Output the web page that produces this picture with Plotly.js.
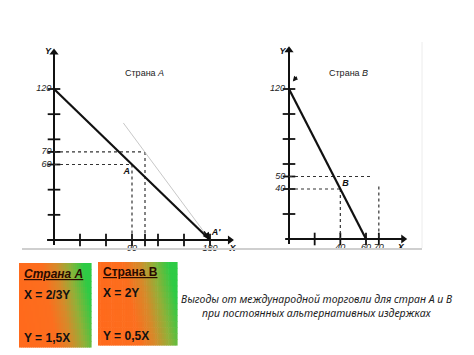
<!DOCTYPE html>
<html><head><meta charset="utf-8">
<script src="https://cdn.plot.ly/plotly-3.0.1.min.js"></script>
<style>html,body{margin:0;padding:0;background:#fff}#c{width:474px;height:355px}</style>
</head><body><div id="c"></div>
<script>
// ---- data ----
const ppfA_x = [0, 180], ppfA_y = [120, 0];
const tradeA_x = [180, 80], tradeA_y = [0, 93];
const ppfB_x = [0, 60], ppfB_y = [120, 0];
const prodA = [90, 60], consA = [105, 70];
const prodB = [40, 40], consB_h = [64, 50], consB_v = [70, 42];
const xTicksA = [30, 60, 90, 105, 120, 150, 180];
const yTicksA = [20, 40, 60, 70, 80, 100, 120];
const xLabA = [90, 180], xLabA_txt = ['90', '180'];
const yLabA = [120, 70, 60], yLabA_txt = ['120', '70', '60'];
const xTicksB = [20, 40, 60, 70];
const yTicksB = [20, 40, 50, 60, 80, 100, 120];
const xLabB = [40, 60, 70], xLabB_txt = ['40', '60', '70'];
const yLabB = [120, 50, 40], yLabB_txt = ['120', '50', '40'];
const titleA = 'Страна <i>А</i>', titleB = 'Страна <i>В</i>';
const boxA = ['Страна А', 'X = 2/3Y', 'Y = 1,5X'];
const boxB = ['Страна В', 'X = 2Y', 'Y = 0,5X'];
const caption = ['Выгоды от международной торговли для стран А и В', 'при постоянных альтернативных издержках'];

// ---- layout helpers ----
const W = 474, H = 355;
function xax(px0, k, d0, d1) { return {range: [(d0 - px0) / k, (d1 - px0) / k], domain: [d0 / W, d1 / W], visible: false, fixedrange: true}; }
function yax(py0, k, d0, d1) { return {range: [(py0 - d1) / k, (py0 - d0) / k], domain: [(H - d1) / H, (H - d0) / H], visible: false, fixedrange: true}; }
const tickFont = {family: 'Liberation Sans', size: 9, color: '#222', style: 'italic'};

function seg(pairs) { const x = [], y = []; pairs.forEach(p => { x.push(p[0][0], p[1][0], null); y.push(p[0][1], p[1][1], null); }); return {x, y}; }

function panel(xa, ya, o) {
  const t = [];
  const line = (x, y, w, c, dash) => t.push({x, y, xaxis: xa, yaxis: ya, mode: 'lines', line: {width: w, color: c, dash: dash || 'solid'}, hoverinfo: 'skip', showlegend: false, cliponaxis: false});
  line([o.xmin, o.xmax], [0, 0], 2, '#111');
  line([0, 0], [o.ymin, o.ymax], 2, '#111');
  t.push({x: [o.xmax], y: [0], xaxis: xa, yaxis: ya, mode: 'markers', marker: {symbol: 'triangle-right', size: 8, color: '#111'}, showlegend: false, hoverinfo: 'skip', cliponaxis: false});
  t.push({x: [0], y: [o.ymax], xaxis: xa, yaxis: ya, mode: 'markers', marker: {symbol: 'triangle-up', size: 8, color: '#111'}, showlegend: false, hoverinfo: 'skip', cliponaxis: false});
  t.push({x: o.xt, y: o.xt.map(() => 0), xaxis: xa, yaxis: ya, mode: 'markers', marker: {symbol: 'line-ns-open', size: 9, color: '#111', line: {width: 1.8, color: '#111'}}, showlegend: false, hoverinfo: 'skip', cliponaxis: false});
  t.push({x: o.yt.map(() => 0), y: o.yt, xaxis: xa, yaxis: ya, mode: 'markers', marker: {symbol: 'line-ew-open', size: 9, color: '#111', line: {width: 1.8, color: '#111'}}, showlegend: false, hoverinfo: 'skip', cliponaxis: false});
  const d = seg(o.dash);
  line(d.x, d.y, 1.2, '#333', 'dot');
  o.extra.forEach(e => line(e.x, e.y, e.w, e.c));
  t.push({x: o.xl, y: o.xl.map(() => o.xlY), text: o.xlT, xaxis: xa, yaxis: ya, mode: 'text', textposition: 'bottom center', textfont: tickFont, showlegend: false, hoverinfo: 'skip', cliponaxis: false});
  t.push({x: o.yl.map(() => o.ylX), y: o.yl, text: o.ylT, xaxis: xa, yaxis: ya, mode: 'text', textposition: 'middle left', textfont: tickFont, showlegend: false, hoverinfo: 'skip', cliponaxis: false});
  t.push({x: o.lab.map(l => l[0]), y: o.lab.map(l => l[1]), text: o.lab.map(l => l[2]), xaxis: xa, yaxis: ya, mode: 'text', textposition: 'middle center', textfont: {family: 'Liberation Sans', size: 9, color: '#111', style: 'italic', weight: 'bold'}, showlegend: false, hoverinfo: 'skip', cliponaxis: false});
  return t;
}

const traces = [].concat(
  panel('x', 'y', {
    xmin: -8, xmax: 203, ymin: -4, ymax: 149,
    xt: xTicksA, yt: yTicksA,
    dash: [[[0, consA[1]], [consA[0], consA[1]]], [[consA[0], consA[1]], [consA[0], 0]],
           [[0, prodA[1]], [prodA[0], prodA[1]]], [[prodA[0], prodA[1]], [prodA[0], 0]]],
    extra: [{x: tradeA_x, y: tradeA_y, w: 1, c: '#c8c8c8'}, {x: ppfA_x, y: ppfA_y, w: 2.2, c: '#111'}],
    xl: xLabA, xlT: xLabA_txt, xlY: -3,
    yl: yLabA, ylT: yLabA_txt, ylX: -3,
    lab: [[-7, 150, 'Y'], [206, -7, 'X'], [84, 54, 'A'], [187, 6, "A'"]]
  }),
  panel('x2', 'y2', {
    xmin: -3, xmax: 89, ymin: -4, ymax: 151,
    xt: xTicksB, yt: yTicksB,
    dash: [[[0, consB_h[1]], [consB_h[0], consB_h[1]]], [[consB_v[0], consB_v[1]], [consB_v[0], 0]],
           [[0, prodB[1]], [prodB[0], prodB[1]]], [[prodB[0], prodB[1]], [prodB[0], 0]]],
    extra: [{x: ppfB_x, y: ppfB_y, w: 2.2, c: '#111'}],
    xl: xLabB, xlT: xLabB_txt, xlY: -3,
    yl: yLabB, ylT: yLabB_txt, ylX: -3,
    lab: [[-5, 150, 'Y'], [87, -7, 'X'], [44, 44, 'B']]
  })
);

// gradient boxes built from small filled rectangles (styling only)
const gradStops = [[0, [255, 106, 28]], [0.42, [252, 110, 30]], [0.62, [214, 138, 42]], [0.8, [146, 176, 56]], [1, [46, 203, 69]]];
function gradColor(t) {
  t = Math.max(0, Math.min(1, t));
  for (let i = 1; i < gradStops.length; i++) {
    if (t <= gradStops[i][0]) {
      const a = gradStops[i - 1], b = gradStops[i], f = (t - a[0]) / (b[0] - a[0]);
      const c = a[1].map((v, j) => Math.round(v + (b[1][j] - v) * f));
      return 'rgb(' + c.join(',') + ')';
    }
  }
  return 'rgb(46,203,69)';
}
function gradBox(x0, y0, x1, y1) {
  const out = [], nx = 36, ny = 14, w = (x1 - x0) / nx, h = (y1 - y0) / ny;
  for (let i = 0; i < nx; i++) for (let j = 0; j < ny; j++) {
    const u = (i + 0.5) / nx, v = (j + 0.5) / ny;
    const t = u + 0.22 * (0.5 - v);
    const px0 = x0 + i * w, py0 = y0 + j * h;
    out.push({type: 'rect', xref: 'paper', yref: 'paper', layer: 'below', x0: px0 / W, x1: (px0 + w + 0.6) / W, y0: (H - py0) / H, y1: (H - py0 - h - 0.6) / H, fillcolor: gradColor(t), line: {width: 0}});
  }
  return out;
}
function ann(text, px, py, font, xanchor) { return {text, xref: 'paper', yref: 'paper', x: px / W, y: (H - py) / H, xanchor: xanchor || 'left', yanchor: 'middle', showarrow: false, font}; }
const boxFont = {family: 'Liberation Sans', size: 12, color: '#111', weight: 'bold'};
const capFont = {family: 'Noto Sans', size: 10.5, color: '#222', style: 'italic'};

const layout = {
  width: W, height: H, margin: {l: 0, r: 0, t: 0, b: 0}, paper_bgcolor: '#fff', plot_bgcolor: 'rgba(0,0,0,0)', showlegend: false,
  xaxis: xax(54, 156 / 180, 20, 240), yaxis: yax(240, 151 / 120, 40, 252),
  xaxis2: xax(289, 77 / 60, 262, 430), yaxis2: yax(239, 150 / 120, 40, 252),
  shapes: [].concat(
    gradBox(19, 263, 91, 347), gradBox(98, 262, 177, 345),
    [{type: 'line', xref: 'paper', yref: 'paper', x0: 22 / W, x1: 422 / W, y0: (H - 249) / H, y1: (H - 249) / H, line: {color: '#cfcfcf', width: 2}},
     {type: 'line', xref: 'paper', yref: 'paper', x0: 422 / W, x1: 422 / W, y0: (H - 42) / H, y1: (H - 248) / H, line: {color: '#ececec', width: 1}}]
  ),
  annotations: [
    {text: titleA, xref: 'x', yref: 'y', x: 104, y: 133, showarrow: false, font: {family: 'Liberation Sans', size: 9, color: '#222'}},
    {text: titleB, xref: 'x2', yref: 'y2', x: 46, y: 133, showarrow: false, font: {family: 'Liberation Sans', size: 9, color: '#222'}},
    {text: '', xref: 'x', yref: 'y', axref: 'x', ayref: 'y', x: 180, y: 0, ax: 172, ay: 8, showarrow: true, arrowhead: 2, arrowsize: 1, arrowwidth: 1.5, arrowcolor: '#111'},
    {text: '', xref: 'x2', yref: 'y2', axref: 'x2', ayref: 'y2', x: 3, y: 126, ax: 7, ay: 131, showarrow: true, arrowhead: 2, arrowsize: 0.8, arrowwidth: 1.3, arrowcolor: '#111'},
    ann(boxA[0], 22, 274, Object.assign({}, boxFont, {style: 'italic', lineposition: 'under', color: '#2a0a00'})),
    ann(boxA[1], 22, 295, boxFont),
    ann(boxA[2], 22, 338, boxFont),
    ann(boxB[0], 101, 272, Object.assign({}, boxFont, {lineposition: 'under', color: '#2a0a00'})),
    ann(boxB[1], 101, 293, boxFont),
    ann(boxB[2], 101, 336, boxFont),
    ann(caption[0], 317, 298.5, capFont, 'center'),
    ann(caption[1], 317, 312.5, capFont, 'center')
  ]
};
Plotly.newPlot('c', traces, layout, {staticPlot: true, displayModeBar: false});
</script></body></html>
